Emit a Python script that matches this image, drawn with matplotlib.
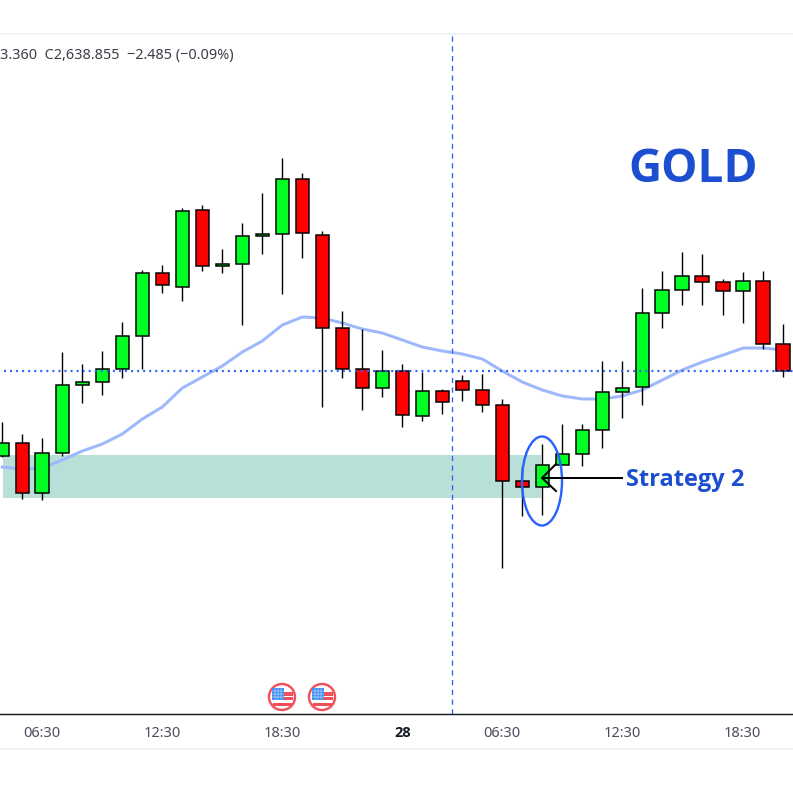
import matplotlib
matplotlib.use("Agg")
import matplotlib.pyplot as plt
from matplotlib.patches import Ellipse, Circle, Rectangle

opens = [2630.5, 2631.8, 2626.8, 2630.8, 2637.6, 2637.9, 2639.2, 2642.5, 2648.8, 2647.4,
         2655.1, 2649.5, 2649.7, 2652.5, 2652.7, 2658.2, 2652.6, 2643.3, 2639.2, 2637.3,
         2639.0, 2634.5, 2637.0, 2638.0, 2637.1, 2635.6, 2628.0, 2627.4, 2629.6, 2630.7,
         2633.1, 2636.9, 2637.4, 2644.8, 2647.1, 2648.5, 2647.9, 2647.0, 2648.0, 2641.7]
closes = [2631.8, 2626.8, 2630.8, 2637.6, 2637.9, 2639.2, 2642.5, 2648.8, 2647.6, 2655.0,
          2649.5, 2649.7, 2652.5, 2652.7, 2658.2, 2652.8, 2643.3, 2639.2, 2637.3, 2639.0,
          2634.6, 2637.0, 2635.9, 2637.1, 2635.6, 2628.0, 2627.4, 2629.6, 2630.7, 2633.1,
          2636.9, 2637.3, 2644.8, 2647.1, 2648.5, 2647.9, 2647.0, 2648.0, 2641.7, 2639.0]
highs = [2633.9, 2632.7, 2632.3, 2640.9, 2639.7, 2641.0, 2643.9, 2649.1, 2649.6, 2655.3,
         2655.6, 2651.2, 2653.8, 2656.8, 2660.3, 2658.8, 2653.0, 2645.0, 2643.2, 2641.1,
         2639.7, 2638.9, 2637.2, 2638.6, 2638.7, 2636.2, 2629.5, 2631.7, 2633.7, 2633.7,
         2640.0, 2640.0, 2647.3, 2649.0, 2650.9, 2650.7, 2648.2, 2648.9, 2649.0, 2643.7]
lows = [2630.4, 2626.2, 2626.1, 2630.5, 2635.8, 2636.6, 2638.3, 2639.2, 2646.8, 2646.0,
        2649.0, 2648.8, 2643.6, 2650.7, 2646.7, 2650.3, 2635.4, 2638.3, 2635.1, 2636.4,
        2633.4, 2634.0, 2634.7, 2636.0, 2634.9, 2619.3, 2624.5, 2624.6, 2629.6, 2629.5,
        2631.3, 2634.3, 2635.6, 2643.3, 2645.6, 2645.6, 2644.6, 2643.8, 2641.2, 2638.4]
ma = [2629.4, 2629.2, 2629.3, 2630.1, 2631.0, 2631.7, 2632.7, 2634.2, 2635.4, 2637.3,
      2638.4, 2639.5, 2640.9, 2642.0, 2643.6, 2644.4, 2644.3, 2643.8, 2643.2, 2642.8,
      2642.1, 2641.4, 2641.0, 2640.7, 2640.2, 2639.0, 2637.9, 2637.1, 2636.5, 2636.2,
      2636.2, 2636.5, 2637.1, 2638.1, 2639.1, 2639.9, 2640.6, 2641.3, 2641.3, 2641.1]
tick_bars = [2, 8, 14, 20, 25, 31, 37]
tick_labels = ["06:30", "12:30", "18:30", "28", "06:30", "12:30", "18:30"]
zone_low, zone_high = 2626.3, 2630.6
zone_start, zone_end = 0.035, 26.935
crosshair_bar = 22.485
legend_text = "3.360  C2,638.855  \u22122.485 (\u22120.09%)"

FONT = "Noto Sans"
PX = 0.72
fig = plt.figure(figsize=(7.93, 7.93), dpi=100, facecolor="white")
W = H = 793.0
ax = fig.add_axes([0, 1 - 714 / H, 1, (714 - 34) / H])
ax.set_xlim(-0.115, 39.535)
ax.set_ylim(2604.7, 2672.7)
for s in ["top", "left", "right"]:
    ax.spines[s].set_visible(False)
ax.spines["bottom"].set_linewidth(1.4 * PX)
ax.spines["bottom"].set_color("#131722")
ax.set_yticks([])
ax.set_xticks(tick_bars)
ax.set_xticklabels(tick_labels, fontfamily=FONT, fontsize=10.5, color="#4a4f5c")
ax.tick_params(axis="x", length=0, pad=8.5)
bold_label = ax.get_xticklabels()[3]
bold_label.set_fontfamily("Open Sans")
bold_label.set_fontweight("bold")
bold_label.set_color("#131722")

ax.add_patch(Rectangle((zone_start, zone_low), zone_end - zone_start, zone_high - zone_low,
                       facecolor="#B8E0D8", edgecolor="none", zorder=1))
positions = [i + (0.05 if i > 35 else 0) for i in range(len(ma))]
ax.plot(positions, ma, color="#9DB8FB", lw=3 * PX, zorder=2, solid_joinstyle="round")
ax.axvline(crosshair_bar, color="#2962FF", lw=1.3 * PX, ls=(0, (4, 3.5)), zorder=2)
for x, o, h, l, c in zip(positions, opens, highs, lows, closes):
    col = "#00FF22" if c >= o else "#FF0000"
    ax.vlines(x, l, h, color="black", lw=1.4 * PX, zorder=3)
    ax.bar(x, abs(c - o), bottom=min(o, c), width=0.68, color=col, edgecolor="black",
           linewidth=1.5 * PX, zorder=4)
ax.plot([0.1, 39.535], [closes[-1], closes[-1]], color="#2962FF", lw=2.2 * PX,
        ls=(0, (0.9, 1.85)), zorder=5)

ov = fig.add_axes([0, 0, 1, 1], facecolor="none")
ov.set_xlim(0, W)
ov.set_ylim(H, 0)
ov.axis("off")
ov.plot([0, W], [33.5, 33.5], color="#F0F3FA", lw=2 * PX)
ov.plot([0, W], [749, 749], color="#F0F3FA", lw=2 * PX)
ov.text(0.5, 55.5, legend_text, fontfamily=FONT, fontsize=10.4, color="#3a3e4a", va="center", ha="left")
ov.text(693.5, 170, "GOLD", fontfamily="Open Sans", fontweight="bold", fontsize=33, color="#1C4FD0",
        ha="center", va="center")
ov.text(685, 480, "Strategy 2", fontfamily="Open Sans", fontweight="bold", fontsize=17, color="#1C4FD0",
        ha="center", va="center")
ov.add_patch(Ellipse((542, 481), 40, 89, fill=False, edgecolor="#2962FF", lw=2.4 * PX))
ov.plot([542, 623], [478, 478], color="black", lw=2 * PX, solid_capstyle="butt")
ov.plot([556, 542, 556], [464, 478, 491], color="black", lw=2 * PX, solid_joinstyle="miter")

for cx in (282, 322):
    ring = Circle((cx, 697), 13, facecolor="white", edgecolor="#F0505A", lw=2.4 * PX)
    ov.add_patch(ring)
    for top, left, right in [(692, 2, 11), (696.5, 2, 11), (702.5, -9.5, 9.5)]:
        ov.add_patch(Rectangle((cx + left, top), right - left, 3.6, facecolor="#F0505A", edgecolor="none"))
    ov.add_patch(Rectangle((cx - 10, 688), 12, 12, facecolor="#3D8BF0", edgecolor="none"))
    for dx in (-7, -4, -1):
        ov.plot([cx + dx, cx + dx], [688, 700], color="white", lw=0.3)
    for dy in (691, 694, 697):
        ov.plot([cx - 10, cx + 2], [dy, dy], color="white", lw=0.3)

fig.savefig("out.png", dpi=100)
